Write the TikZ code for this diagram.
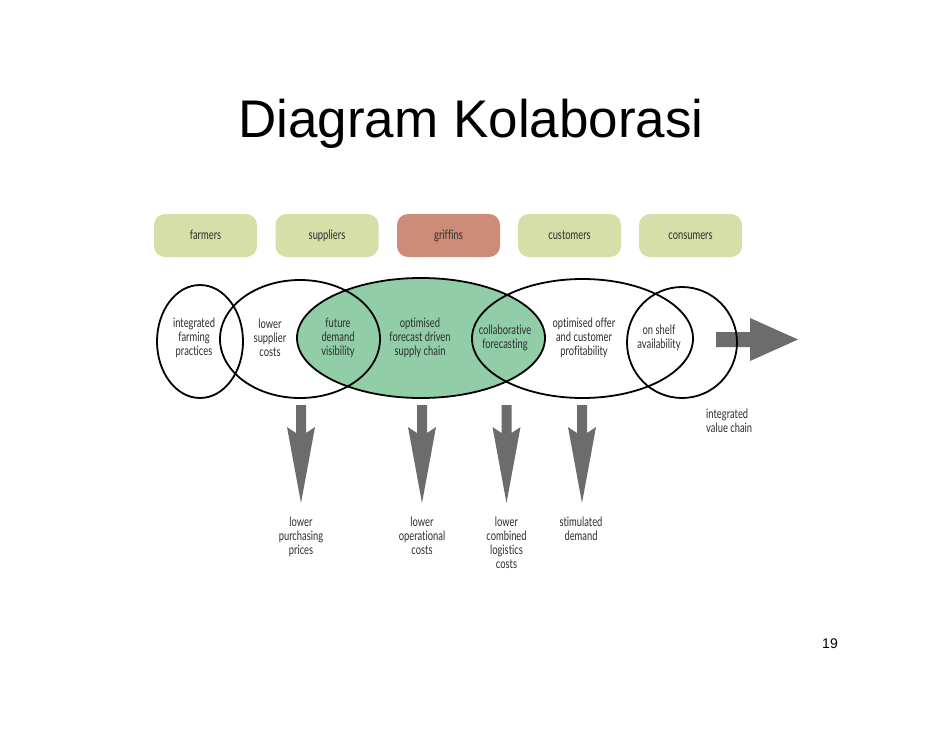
\documentclass[tikz,border=0pt]{standalone}
\usepackage{fontspec}
\setmainfont{Liberation Sans}
\newfontfamily\cond[FakeStretch=0.72,Ligatures=NoCommon]{Lato}
\definecolor{boxgreen}{RGB}{214,223,168}
\definecolor{boxred}{RGB}{204,140,119}
\definecolor{ellgreen}{RGB}{145,206,168}
\definecolor{arrgray}{RGB}{108,108,108}
\definecolor{txt}{RGB}{45,45,45}
\tikzset{
  actor/.style={rounded corners=11pt, minimum width=103pt, minimum height=43pt, inner sep=0pt, text height=9.5pt, text depth=2.5pt, font=\cond\fontsize{13}{14}\selectfont, text=txt},
  lbl/.style={align=center, inner sep=0pt, font=\cond\fontsize{13}{14}\selectfont, text=txt},
  ring/.style={line width=1.8pt, black},
  bigarrow/.style={fill=arrgray, draw=none},
}
\newcommand{\downarr}[2]{%
  \coordinate (#2) at (#1,405);
  \fill[bigarrow] ($(#2)+(-5,0)$) -- ($(#2)+(5,0)$) -- ($(#2)+(5,28)$) -- ($(#2)+(14,22)$) -- ($(#2)+(0,98)$) -- ($(#2)+(-14,22)$) -- ($(#2)+(-5,28)$) -- cycle;}
\usetikzlibrary{calc}
\begin{document}
\begin{tikzpicture}[x=1pt,y=-1pt]
\useasboundingbox (0,0) rectangle (942,728);
\fill[white] (0,0) rectangle (942,728);

% title
\node[anchor=base, inner sep=0pt, font=\fontsize{53}{60}\selectfont] (title) at (471,137) {Diagram Kolaborasi};

% actor boxes
\node[actor, fill=boxgreen] (farmers) at (205.5,235.5) {farmers};
\node[actor, fill=boxgreen] (suppliers) at (327,235.5) {suppliers};
\node[actor, fill=boxred] (griffins) at (448.5,235.5) {griffins};
\node[actor, fill=boxgreen] (customers) at (569.5,235.5) {customers};
\node[actor, fill=boxgreen] (consumers) at (690.5,235.5) {consumers};

% right arrow
\coordinate (rs) at (716,339.5);
\fill[bigarrow] ($(rs)+(0,-7.5)$) -- ($(rs)+(34,-7.5)$) -- ($(rs)+(34,-21.5)$) -- ($(rs)+(82,0)$) -- ($(rs)+(34,21.5)$) -- ($(rs)+(34,7.5)$) -- ($(rs)+(0,7.5)$) -- cycle;

% green ellipse fill
\fill[ellgreen] (421,338) ellipse [x radius=124, y radius=60];
% ellipse outlines
\draw[ring] (200,341.5) ellipse [x radius=43, y radius=56.5];
\draw[ring] (300,339) ellipse [x radius=80, y radius=59];
\draw[ring] (421,338) ellipse [x radius=124, y radius=60];
\draw[ring] (582.5,338.5) ellipse [x radius=110.5, y radius=59.5];
\draw[ring] (682,342.5) ellipse [x radius=55, y radius=55.5];

% ellipse labels
\node[lbl] (l1) at (194,338) {integrated\\farming\\practices};
\node[lbl] (l2) at (270,338) {lower\\supplier\\costs};
\node[lbl] (l3) at (338,338) {future\\demand\\visibility};
\node[lbl] (l4) at (420,338) {optimised\\forecast driven\\supply chain};
\node[lbl] (l5) at (505,338) {collaborative\\forecasting};
\node[lbl] (l6) at (584,338) {optimised offer\\and customer\\profitability};
\node[lbl] (l7) at (659,338) {on shelf\\availability};

% down arrows
\downarr{301}{a1}
\downarr{422}{a2}
\downarr{506.5}{a3}
\downarr{582}{a4}

% bottom labels
\node[lbl, anchor=north] (b1) at (301,517) {lower\\purchasing\\prices};
\node[lbl, anchor=north] (b2) at (422,517) {lower\\operational\\costs};
\node[lbl, anchor=north] (b3) at (506.5,517) {lower\\combined\\logistics\\costs};
\node[lbl, anchor=north] (b4) at (581,517) {stimulated\\demand};

\node[lbl, align=left, anchor=north west] (ivc) at (706,409) {integrated\\value chain};

% page number
\node[anchor=base, inner sep=0pt, font=\fontsize{14}{16}\selectfont] (pg) at (830,648) {19};
\end{tikzpicture}
\end{document}
